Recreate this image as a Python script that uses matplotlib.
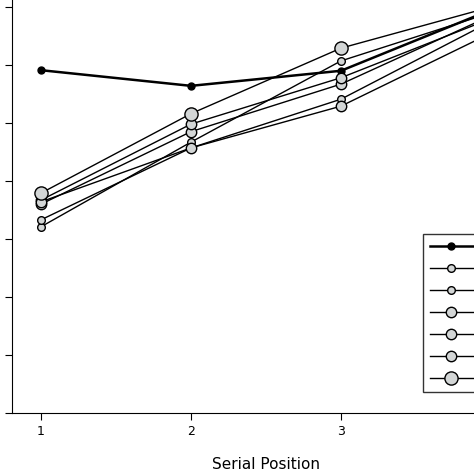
import numpy as np
import matplotlib
matplotlib.use('Agg')
from matplotlib import pyplot as plt

# serial positions and recall values (in y-tick units, 0..7)
positions = [1, 2, 3, 4]
black = [5.91, 5.64, 5.90, 6.95]
series = [
    [3.21, 4.67, 6.07, 6.90],
    [3.33, 4.57, 5.41, 6.75],
    [3.60, 4.85, 5.67, 6.85],
    [3.67, 4.98, 5.78, 6.80],
    [3.64, 4.57, 5.29, 6.55],
    [3.79, 5.16, 6.29, 7.00],
]
labels = ['Group 1', 'Group 2', 'Group 3', 'Group 4', 'Group 5', 'Group 6', 'Group 7']
sizes = [5.5, 5.5, 7.5, 7.5, 7.5, 9.5]

fig = plt.figure(figsize=(4.74, 4.74), dpi=100)
W = 474.
ax = fig.add_axes([12 / W, (474 - 413) / W, (521 - 12) / W, (413 - 0) / W])

ax.plot(positions, black, color='black', lw=1.8, marker='o', ms=5,
        mfc='black', mec='black', label=labels[0])
for vals, ms, lab in zip(series, sizes, labels[1:]):
    ax.plot(positions, vals, color='black', lw=1.0, marker='o', ms=ms,
            mfc='#d3d6d6', mec='black', mew=1.0, label=lab)

ax.set_xlim(0.807, 4.2)
ax.set_ylim(0, 7.12)
ax.set_xticks(positions)
ax.set_yticks(np.arange(0, 8))
ax.set_yticklabels([])
ax.spines['top'].set_visible(False)
ax.spines['right'].set_visible(False)
ax.tick_params(direction='out', length=5, labelsize=9)
ax.set_xlabel('Serial Position', fontsize=11, labelpad=14)

leg = ax.legend(loc='lower left', bbox_to_anchor=((417 - 12) / 509., (413 - 398) / 413.),
                frameon=True, fancybox=False, edgecolor='black', fontsize=9,
                handlelength=3.5, labelspacing=0.72, borderpad=0.5)
leg.get_frame().set_linewidth(1.0)

fig.savefig('out.png', dpi=100)
